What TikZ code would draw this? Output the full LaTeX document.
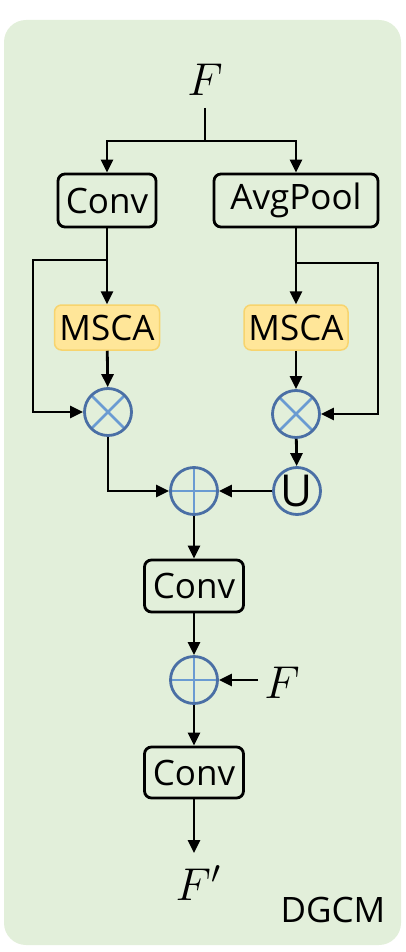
\RequirePackage{fix-cm}
\documentclass[tikz,border=0pt]{standalone}
\usepackage{fontspec}
\setsansfont{Open Sans}
\usetikzlibrary{arrows.meta}
\definecolor{bg}{HTML}{E2EFDA}
\definecolor{mscafill}{HTML}{FFE699}
\definecolor{mscadraw}{HTML}{F7D46E}
\definecolor{circdraw}{HTML}{4A6FA5}
\definecolor{crossc}{HTML}{6A9BD2}
\tikzset{
  box/.style={draw, line width=2.8pt, rounded corners=7pt, minimum height=53pt, inner sep=0pt,
    font=\sffamily\fontsize{35}{35}\selectfont},
  mscabox/.style={fill=mscafill, draw=mscadraw, line width=1.5pt, rounded corners=7pt, minimum height=45pt,
    inner sep=0pt, font=\sffamily\fontsize{35}{35}\selectfont},
  opcirc/.style={circle, draw=circdraw, line width=2.8pt, minimum size=47pt, inner sep=0pt},
  otimesnode/.style={opcirc, path picture={
      \draw[crossc, line width=2.8pt] (path picture bounding box.north west) -- (path picture bounding box.south east);
      \draw[crossc, line width=2.8pt] (path picture bounding box.north east) -- (path picture bounding box.south west);}},
  oplusnode/.style={opcirc, path picture={
      \draw[crossc, line width=2.8pt] (path picture bounding box.north) -- (path picture bounding box.south);
      \draw[crossc, line width=2.8pt] (path picture bounding box.west) -- (path picture bounding box.east);}},
  arr/.style={-{Triangle[length=13pt,width=12pt]}, line width=2.8pt},
  ln/.style={line width=2.8pt},
  mathlbl/.style={font=\fontsize{46}{46}\selectfont, inner sep=0pt}
}
\begin{document}
\begin{tikzpicture}[x=1pt,y=-1pt]
\useasboundingbox (0,0) rectangle (406,952);
\fill[bg, rounded corners=22pt] (4,20) rectangle (401,945);

\node[mathlbl] (Ftop) at (205,80) {$F$};
\node[box, minimum width=98pt] (conv1) at (107,200.5) {Conv};
\node[box, minimum width=164pt] (avg) at (296,200.5) {AvgPool};
\node[mscabox, minimum width=105pt] (msca1) at (107,327.5) {MSCA};
\node[mscabox, minimum width=104pt] (msca2) at (296,327.5) {MSCA};
\node[otimesnode] (ot1) at (108,412) {};
\node[otimesnode] (ot2) at (296,414) {};
\node[opcirc, font=\sffamily\fontsize{44}{44}\selectfont] (U) at (297,491) {U};
\node[oplusnode] (op1) at (194,491) {};
\node[box, minimum width=99pt, minimum height=52pt] (conv2) at (194,586) {Conv};
\node[oplusnode] (op2) at (194,680) {};
\node[mathlbl] (Fr) at (282,683) {$F$};
\node[box, minimum width=99pt, minimum height=51pt] (conv3) at (194,772.5) {Conv};
\node[mathlbl] (Fp) at (198,883) {$F'$};
\node[font=\sffamily\fontsize{35}{35}\selectfont] (dgcm) at (333,910) {DGCM};

\coordinate (split) at (205,141);
\coordinate (b1) at (107,260);
\coordinate (l1) at (33,260);
\coordinate (b2) at (296,263);
\coordinate (r1) at (378,263);
\coordinate (fpend) at (194,853);
\coordinate (fin) at (258,680);

\draw[ln] (205,108) -- (split);
\draw[arr] (split) -| (conv1.north);
\draw[arr] (split) -| (avg.north);
\draw[arr] (conv1) -- (msca1);
\draw[arr] (b1) -- (l1) |- (ot1.west);
\draw[arr] (avg) -- (msca2);
\draw[arr] (b2) -- (r1) |- (ot2.east);
\draw[arr] (msca1) -- (ot1);
\draw[arr] (msca2) -- (ot2);
\draw[arr] (ot1.south) |- (op1.west);
\draw[arr] (ot2) -- (U);
\draw[arr] (U) -- (op1);
\draw[arr] (op1) -- (conv2);
\draw[arr] (conv2) -- (op2);
\draw[arr] (fin) -- (op2.east);
\draw[arr] (op2) -- (conv3);
\draw[arr] (conv3.south) -- (fpend);
\end{tikzpicture}
\end{document}
